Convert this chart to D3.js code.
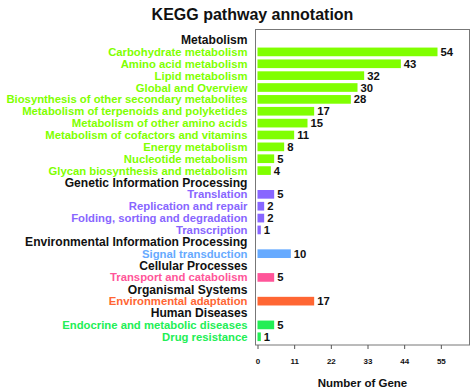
<!DOCTYPE html>
<html><head><meta charset="utf-8">
<script src="https://cdn.jsdelivr.net/npm/d3@7"></script>
<style>body{margin:0;background:#fff}</style>
</head><body>
<svg id="c" width="474" height="391"></svg>
<script>
const groups = ["Metabolism","Genetic Information Processing","Environmental Information Processing","Cellular Processes","Organismal Systems","Human Diseases"];
const groupColors = ["#80ff00","#8866ff","#66aaff","#ff5599","#ff6633","#22ee55"];
const categories = [
 "Carbohydrate metabolism","Amino acid metabolism","Lipid metabolism","Global and Overview",
 "Biosynthesis of other secondary metabolites","Metabolism of terpenoids and polyketides",
 "Metabolism of other amino acids","Metabolism of cofactors and vitamins","Energy metabolism",
 "Nucleotide metabolism","Glycan biosynthesis and metabolism",
 "Translation","Replication and repair","Folding, sorting and degradation","Transcription",
 "Signal transduction","Transport and catabolism","Environmental adaptation",
 "Endocrine and metabolic diseases","Drug resistance"];
const categoryGroup = [0,0,0,0,0,0,0,0,0,0,0,1,1,1,1,2,3,4,5,5];
const values = [54,43,32,30,28,17,15,11,8,5,4,5,2,2,1,10,5,17,5,1];
const xTicks = [0,11,22,33,44,55];

// build row list: group header followed by its categories
const rows = [];
groups.forEach((g,gi)=>{
  rows.push({key:"h"+gi,label:g,header:true,group:gi});
  categories.forEach((c,ci)=>{ if(categoryGroup[ci]===gi) rows.push({key:"c"+ci,label:c,header:false,group:gi,value:values[ci]}); });
});

const svg = d3.select("#c");
const font = "'Liberation Sans', Arial, sans-serif";
const box = {l:255.5, r:469.5, t:29.5, b:345};

const x = d3.scaleLinear().domain([0,63.6]).range([257.5,469.5]);
const y = d3.scaleBand().domain(rows.map(r=>r.key)).range([34.1,342.7]).paddingInner(0.27).paddingOuter(0.135);

svg.append("text").attr("x",252.5).attr("y",20).attr("text-anchor","middle")
  .attr("font-family",font).attr("font-weight","bold").attr("font-size",16).attr("fill","#111")
  .text("KEGG pathway annotation");

svg.append("rect").attr("x",box.l).attr("y",box.t).attr("width",box.r-box.l).attr("height",box.b-box.t)
  .attr("fill","none").attr("stroke","#777").attr("stroke-width",1);

const bars = rows.filter(r=>!r.header);
svg.selectAll("rect.bar").data(bars).enter().append("rect").attr("class","bar")
  .attr("x",x(0)).attr("y",d=>y(d.key)).attr("width",d=>x(d.value)-x(0)).attr("height",y.bandwidth())
  .attr("fill",d=>groupColors[d.group]);

svg.selectAll("text.val").data(bars).enter().append("text").attr("class","val")
  .attr("x",d=>x(d.value)+3).attr("y",d=>y(d.key)+y.bandwidth()/2).attr("dy","0.36em")
  .attr("font-family",font).attr("font-weight","bold").attr("font-size",11.3).attr("fill","#111")
  .text(d=>d.value);

svg.selectAll("text.lab").data(rows).enter().append("text").attr("class","lab")
  .attr("x",247.5).attr("y",d=>y(d.key)+y.bandwidth()/2).attr("dy","0.36em").attr("text-anchor","end")
  .attr("font-family",font).attr("font-weight","bold").attr("font-size",d=>d.header?12.1:11.3)
  .attr("fill",d=>d.header?"#111":groupColors[d.group])
  .text(d=>d.label);

const ax = svg.append("g").attr("transform",`translate(0,${box.b})`)
  .call(d3.axisBottom(x).tickValues(xTicks).tickSize(4).tickSizeOuter(0));
ax.select(".domain").remove();
ax.selectAll("line").attr("stroke","#555");
ax.selectAll("text").attr("font-family",font).attr("font-weight","bold").attr("font-size",8).attr("fill","#111").attr("dy","1.5em");

svg.append("text").attr("x",(box.l+box.r)/2).attr("y",387).attr("text-anchor","middle")
  .attr("font-family",font).attr("font-weight","bold").attr("font-size",11.5).attr("fill","#111")
  .text("Number of Gene");
</script>
</body></html>
